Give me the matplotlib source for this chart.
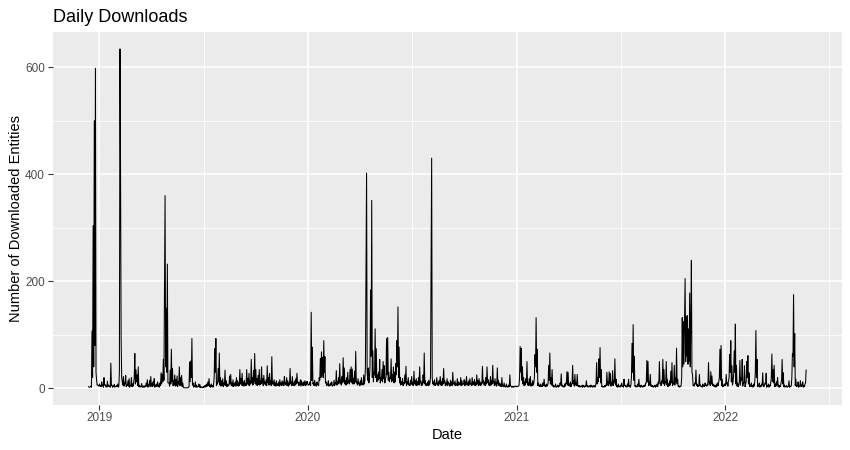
import numpy as np
import pandas as pd
import matplotlib
matplotlib.use("Agg")
import matplotlib.pyplot as plt
import matplotlib.dates as mdates

plt.rcParams['font.family'] = ['Liberation Sans', 'DejaVu Sans']

# daily downloads, split into even / odd days of each block
d2018_even = [3, 2, 4, 107, 304, 500, 598, 16, 6, 4]  # from 2018-12-13
d2018_odd = [2, 3, 2, 20, 40, 80, 30, 6, 5]

d2019_even = [8, 5, 12, 6, 20, 7, 5, 13, 6, 4,
              47, 6, 4, 7, 3, 5, 8, 4, 634, 95,
              12, 22, 10, 24, 6, 14, 18, 5, 20, 8,
              12, 65, 35, 25, 40, 6, 4, 9, 3, 5,
              4, 10, 16, 6, 15, 22, 8, 12, 18, 6,
              8, 12, 6, 10, 29, 26, 54, 180, 40, 30,
              10, 10, 34, 73, 37, 14, 25, 16, 23, 12,
              40, 20, 24, 10, 1, 1, 1, 1, 2, 49,
              51, 93, 10, 4, 12, 6, 3, 8, 7, 3,
              2, 3, 5, 6, 8, 12, 18, 6, 8, 5,
              7, 74, 93, 10, 37, 66, 20, 14, 18, 10,
              34, 14, 8, 6, 23, 26, 10, 16, 9, 12,
              20, 14, 10, 35, 18, 28, 12, 15, 8, 35,
              18, 28, 14, 54, 20, 33, 65, 35, 18, 24,
              35, 14, 40, 18, 24, 12, 16, 42, 20, 28,
              14, 59, 12, 16, 10, 14, 8, 12, 16, 10,
              14, 12, 22, 10, 20, 14, 10, 37, 12, 22,
              10, 14, 18, 28, 12, 10, 16, 14, 10, 12, 14, 12, 13]
d2019_odd = [4, 3, 5, 2, 6, 3, 2, 4, 3, 2,
             5, 2, 3, 2, 4, 3, 2, 30, 408, 20,
             6, 4, 8, 3, 5, 4, 2, 6, 3, 4,
             20, 8, 12, 5, 3, 2, 3, 2, 2, 2,
             3, 4, 2, 5, 3, 4, 3, 5, 2, 3,
             4, 3, 2, 5, 8, 12, 15, 360, 150, 232,
             10, 4, 8, 12, 5, 6, 4, 5, 3, 8,
             5, 6, 3, 2, 1, 1, 1, 1, 3, 12,
             20, 6, 2, 3, 2, 2, 3, 2, 1, 2,
             1, 2, 2, 3, 4, 5, 3, 2, 3, 2,
             20, 30, 5, 8, 12, 6, 4, 5, 3, 6,
             5, 3, 4, 6, 8, 5, 4, 3, 5, 4,
             6, 4, 5, 8, 6, 5, 4, 6, 5, 8,
             6, 5, 8, 10, 6, 12, 8, 6, 5, 7,
             6, 8, 10, 5, 8, 6, 5, 10, 6, 8,
             5, 8, 6, 5, 4, 6, 5, 4, 6, 5,
             6, 5, 8, 6, 5, 4, 6, 8, 5, 6,
             5, 6, 8, 10, 5, 6, 4, 6, 5, 6, 5, 6]

d2020_even = [9, 6, 12, 142, 77, 10, 15, 8, 12, 6,
              20, 56, 68, 58, 89, 59, 12, 8, 14, 6,
              10, 12, 5, 15, 10, 33, 12, 20, 46, 15,
              22, 57, 38, 14, 20, 30, 14, 35, 40, 36,
              18, 32, 69, 12, 18, 10, 14, 20, 8, 25,
              15, 210, 30, 38, 20, 184, 351, 70, 30, 111,
              74, 25, 30, 54, 20, 35, 50, 42, 18, 93,
              95, 30, 20, 55, 25, 40, 30, 46, 89, 152,
              77, 20, 12, 18, 10, 25, 41, 12, 20, 8,
              15, 22, 10, 32, 14, 18, 12, 20, 40, 14,
              10, 25, 66, 14, 8, 12, 15, 10, 236, 20,
              12, 16, 8, 20, 10, 14, 22, 12, 18, 37,
              14, 10, 18, 12, 8, 15, 12, 30, 10, 14,
              8, 18, 12, 10, 20, 14, 8, 16, 12, 22,
              10, 14, 18, 8, 20, 12, 16, 10, 25, 14,
              18, 12, 10, 41, 14, 12, 20, 40, 16, 10,
              22, 14, 43, 12, 18, 10, 38, 14, 10, 8,
              20, 6, 10, 4, 8, 3, 6, 25, 4, 4, 3, 4, 4]
d2020_odd = [6, 8, 5, 15, 8, 5, 6, 4, 7, 5,
             15, 20, 25, 20, 30, 10, 5, 6, 4, 5,
             6, 4, 6, 5, 8, 6, 8, 10, 8, 6,
             10, 12, 8, 6, 8, 10, 8, 12, 10, 8,
             8, 12, 10, 6, 8, 5, 6, 8, 6, 8,
             40, 402, 15, 10, 40, 60, 20, 12, 25, 20,
             12, 15, 18, 10, 15, 12, 18, 10, 20, 25,
             15, 12, 18, 12, 15, 10, 12, 25, 40, 20,
             10, 6, 8, 5, 8, 10, 5, 8, 6, 5,
             8, 6, 5, 8, 6, 5, 8, 6, 10, 5,
             6, 10, 8, 5, 6, 5, 6, 20, 430, 8,
             6, 5, 8, 6, 5, 8, 6, 5, 8, 10,
             5, 6, 5, 8, 4, 6, 5, 8, 6, 5,
             6, 5, 8, 6, 5, 6, 8, 5, 6, 8,
             5, 6, 8, 5, 6, 8, 5, 6, 8, 5,
             6, 5, 8, 10, 6, 5, 8, 10, 6, 5,
             6, 8, 10, 5, 6, 4, 8, 5, 4, 3,
             4, 3, 3, 2, 3, 2, 3, 5, 2, 2, 2, 3, 3]

d2021_even = [4, 4, 5, 78, 75, 40, 20, 12, 18, 50,
              10, 18, 22, 8, 14, 10, 63, 132, 73, 10,
              6, 8, 5, 10, 17, 6, 8, 5, 43, 66,
              20, 35, 6, 4, 8, 3, 6, 5, 10, 27,
              6, 4, 8, 10, 31, 30, 8, 12, 6, 43,
              14, 26, 10, 26, 5, 5, 4, 5, 6, 4,
              5, 14, 5, 4, 5, 6, 4, 5, 5, 4,
              48, 20, 55, 76, 35, 4, 3, 5, 6, 30,
              12, 31, 28, 10, 33, 14, 55, 17, 5, 8,
              4, 6, 10, 5, 17, 6, 4, 8, 17, 5,
              6, 84, 119, 60, 5, 4, 8, 17, 5, 6,
              4, 5, 6, 10, 52, 50, 12, 26, 6, 5,
              4, 6, 5, 8, 12, 50, 10, 14, 54, 35,
              12, 50, 17, 8, 14, 32, 48, 10, 43, 20,
              75, 17, 5, 4, 5, 132, 125, 124, 50, 60,
              45, 50, 40, 239, 26, 6, 10, 34, 8, 5,
              26, 6, 4, 8, 5, 10, 6, 8, 48, 12,
              31, 23, 8, 6, 5, 8, 10, 12, 73, 80, 17, 6, 8]
d2021_odd = [3, 4, 20, 30, 15, 8, 5, 6, 10, 6,
             5, 6, 4, 5, 6, 20, 40, 30, 5, 4,
             3, 4, 3, 5, 4, 3, 4, 10, 15, 8,
             6, 4, 2, 3, 2, 3, 2, 4, 6, 4,
             3, 2, 4, 8, 6, 5, 4, 3, 10, 8,
             4, 6, 5, 4, 3, 2, 3, 2, 3, 2,
             3, 4, 2, 3, 2, 3, 2, 3, 2, 10,
             8, 12, 20, 10, 3, 2, 2, 3, 5, 6,
             5, 8, 4, 6, 5, 10, 6, 3, 2, 3,
             2, 4, 3, 2, 5, 3, 2, 4, 3, 2,
             20, 30, 15, 4, 2, 3, 4, 3, 2, 3,
             2, 3, 4, 10, 12, 5, 6, 4, 3, 2,
             3, 2, 4, 3, 8, 12, 5, 10, 8, 5,
             10, 6, 3, 5, 6, 10, 5, 8, 6, 12,
             8, 3, 2, 3, 20, 40, 45, 205, 135, 136,
             111, 178, 120, 30, 5, 4, 8, 5, 3, 4,
             5, 3, 2, 4, 3, 5, 4, 6, 10, 5,
             8, 5, 4, 3, 2, 4, 5, 20, 15, 5, 3, 4]

d2022_even = [8, 26, 10, 14, 63, 89, 42, 12, 70, 120,
              43, 10, 6, 52, 20, 54, 10, 42, 8, 50,
              61, 29, 6, 10, 5, 8, 12, 108, 54, 6,
              10, 5, 8, 29, 6, 10, 28, 5, 8, 6,
              10, 64, 35, 43, 8, 12, 20, 6, 5, 10,
              54, 29, 6, 4, 5, 3, 14, 4, 5, 65,
              175, 102, 17, 5, 12, 4, 14, 6, 12, 5,
              8, 34]
d2022_odd = [5, 8, 4, 20, 30, 12, 6, 25, 30, 8,
             4, 3, 12, 6, 15, 4, 10, 3, 12, 20,
             8, 3, 4, 3, 2, 4, 30, 20, 3, 4,
             2, 3, 6, 3, 4, 8, 2, 3, 2, 4,
             20, 12, 10, 3, 4, 6, 3, 2, 3, 15,
             8, 3, 2, 3, 2, 4, 2, 3, 20, 60,
             40, 5, 3, 4, 2, 5, 3, 4, 2, 3, 10]

starts = ["2018-12-13", "2019-01-01", "2020-01-01", "2021-01-01", "2022-01-01"]
evens = [d2018_even, d2019_even, d2020_even, d2021_even, d2022_even]
odds = [d2018_odd, d2019_odd, d2020_odd, d2021_odd, d2022_odd]

date_parts, value_parts = [], []
for s, ev, od in zip(starts, evens, odds):
    v = np.empty(len(ev) + len(od))
    v[0::2] = ev
    v[1::2] = od
    value_parts.append(v)
    date_parts.append(pd.date_range(s, periods=len(v), freq="D").values)
dates = np.concatenate(date_parts)
values = np.concatenate(value_parts)

fig = plt.figure(figsize=(8.5, 4.5), dpi=100)
ax = fig.add_axes([52.7 / 850, 1 - 404.7 / 450, (842 - 52.7) / 850, (404.7 - 32) / 450])
ax.set_facecolor('#EBEBEB')
ax.plot(dates, values, color='black', lw=0.75)

# axes and grid, ggplot grey look
ax.set_yticks([0, 200, 400, 600])
ax.set_yticks([100, 300, 500], minor=True)
ax.xaxis.set_major_locator(mdates.YearLocator())
ax.xaxis.set_major_formatter(mdates.DateFormatter('%Y'))
jan = [pd.Timestamp(f"{y}-01-01") for y in range(2018, 2024)]
mids = [a + (b - a) / 2 for a, b in zip(jan[:-1], jan[1:])]
ax.set_xticks(mdates.date2num(mids), minor=True)

x0, x1 = mdates.date2num(dates[0]), mdates.date2num(dates[-1])
ax.set_xlim(x0 - 0.05 * (x1 - x0), x1 + 0.05 * (x1 - x0))
y0, y1 = values.min(), values.max()
ax.set_ylim(y0 - 0.05 * (y1 - y0), y1 + 0.05 * (y1 - y0))

ax.grid(which='major', color='white', lw=1.1)
ax.grid(which='minor', color='white', lw=0.55)
ax.set_axisbelow(True)
for sp in ax.spines.values():
    sp.set_visible(False)
ax.tick_params(which='major', length=3.5, width=0.8, color='#333333',
               labelsize=8.5, labelcolor='#4D4D4D', pad=2)
ax.tick_params(which='minor', length=0)

fig.text(52.7 / 850, 1 - 21.5 / 450, 'Daily Downloads', fontsize=13, ha='left', va='baseline')
fig.text((52.7 + 842) / 2 / 850, 1 - 435 / 450, 'Date', fontsize=10.5, ha='center', va='center')
fig.text(16 / 850, 1 - 218 / 450, 'Number of Downloaded Entities', fontsize=10.5,
         ha='center', va='center', rotation=90)

fig.savefig('out.png', dpi=100)
